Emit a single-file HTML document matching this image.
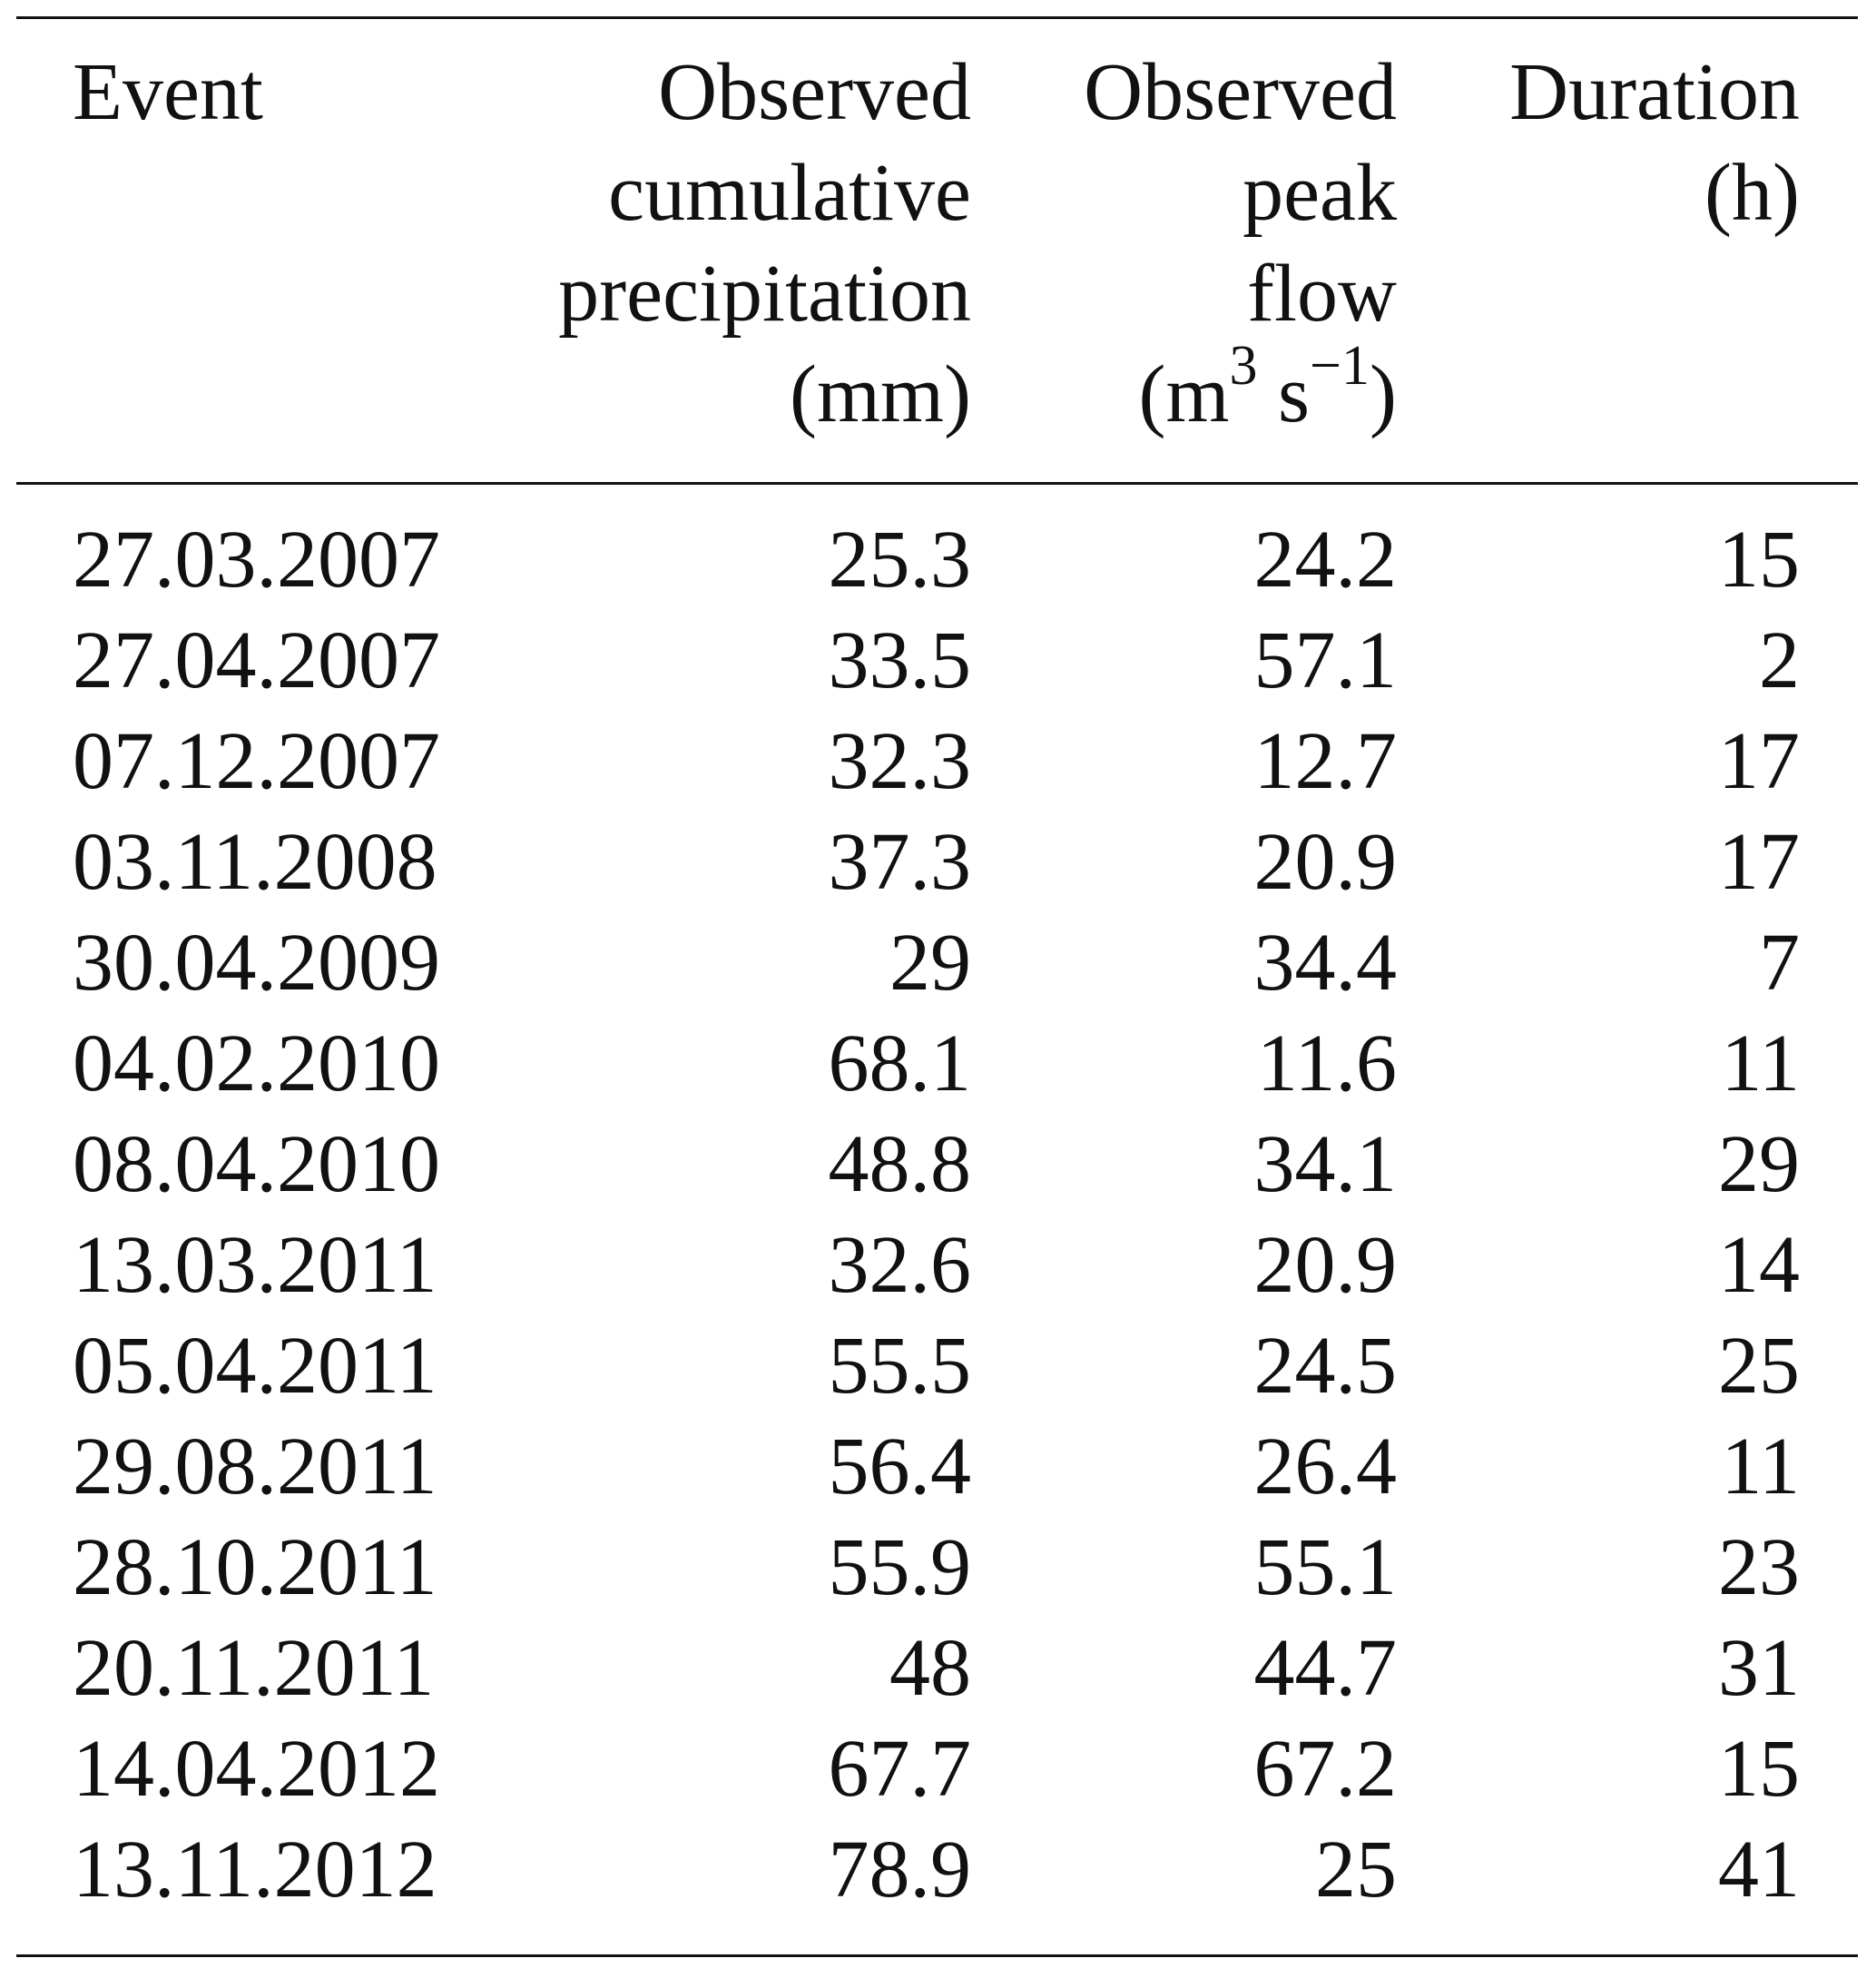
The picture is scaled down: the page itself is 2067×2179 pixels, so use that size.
<!DOCTYPE html>
<html><head><style>
body{margin:0;width:2067px;height:2179px;background:#fff;position:relative;font-family:"Liberation Serif",serif;font-size:90px;color:#111;}
.rule{position:absolute;left:18px;width:2029px;height:3px;background:#111;}
.col{position:absolute;line-height:111px;white-space:nowrap;}
.r{text-align:right;}
sup{font-size:62px;line-height:0;position:relative;top:-10px;vertical-align:super;}
</style></head><body>
<div class="rule" style="top:18px"></div>
<div class="rule" style="top:531px"></div>
<div class="rule" style="top:2153px"></div>

<div class="col" style="left:80px;top:46px">Event</div>
<div class="col r" style="right:997px;top:46px">Observed<br>cumulative<br>precipitation<br>(mm)</div>
<div class="col r" style="right:528px;top:46px">Observed<br>peak<br>flow<br>(m<sup>3</sup> s<sup>−1</sup>)</div>
<div class="col r" style="right:84px;top:46px">Duration<br>(h)</div>

<div class="col" style="left:80px;top:561px">27.03.2007<br>27.04.2007<br>07.12.2007<br>03.11.2008<br>30.04.2009<br>04.02.2010<br>08.04.2010<br>13.03.2011<br>05.04.2011<br>29.08.2011<br>28.10.2011<br>20.11.2011<br>14.04.2012<br>13.11.2012</div>
<div class="col r" style="right:997px;top:561px">25.3<br>33.5<br>32.3<br>37.3<br>29<br>68.1<br>48.8<br>32.6<br>55.5<br>56.4<br>55.9<br>48<br>67.7<br>78.9</div>
<div class="col r" style="right:528px;top:561px">24.2<br>57.1<br>12.7<br>20.9<br>34.4<br>11.6<br>34.1<br>20.9<br>24.5<br>26.4<br>55.1<br>44.7<br>67.2<br>25</div>
<div class="col r" style="right:84px;top:561px">15<br>2<br>17<br>17<br>7<br>11<br>29<br>14<br>25<br>11<br>23<br>31<br>15<br>41</div>
</body></html>
